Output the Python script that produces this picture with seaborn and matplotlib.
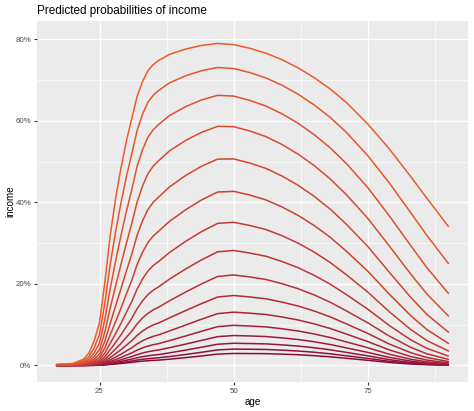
import matplotlib
matplotlib.use("Agg")
import matplotlib.pyplot as plt
import seaborn as sns
import pandas as pd
from matplotlib.ticker import PercentFormatter, FixedLocator

# ages at which predicted probabilities were read (years)
ages = [17, 20, 22, 23, 24, 25, 26, 27, 28, 29, 30, 31, 32, 33, 34, 35, 36, 38, 41, 44,
        47, 50, 53, 56, 59, 62, 65, 68, 71, 75, 79, 83, 86, 90]

# predicted probability of income (%) for each of the 16 levels (1 = lowest curve)
level01 = [0.00, 0.00, 0.01, 0.02, 0.03, 0.06, 0.13, 0.25, 0.36, 0.49, 0.64, 0.77, 0.94, 1.07, 1.17, 1.26, 1.32, 1.54, 1.92, 2.34, 2.79, 2.95,
           2.93, 2.90, 2.79, 2.64, 2.41, 2.12, 1.76, 1.27, 0.74, 0.36, 0.19, 0.07]
level02 = [0.00, 0.00, 0.01, 0.02, 0.05, 0.09, 0.19, 0.35, 0.52, 0.70, 0.90, 1.10, 1.33, 1.52, 1.66, 1.79, 1.89, 2.19, 2.69, 3.24, 3.82, 4.02,
           3.98, 3.93, 3.76, 3.55, 3.25, 2.86, 2.38, 1.73, 1.03, 0.52, 0.28, 0.11]
level03 = [0.00, 0.01, 0.02, 0.03, 0.07, 0.12, 0.27, 0.49, 0.73, 0.99, 1.28, 1.55, 1.89, 2.16, 2.37, 2.55, 2.68, 3.09, 3.76, 4.48, 5.21, 5.45,
           5.38, 5.30, 5.06, 4.76, 4.35, 3.84, 3.21, 2.36, 1.43, 0.74, 0.41, 0.17]
level04 = [0.00, 0.01, 0.02, 0.05, 0.10, 0.18, 0.39, 0.70, 1.03, 1.39, 1.80, 2.19, 2.67, 3.06, 3.36, 3.61, 3.80, 4.35, 5.23, 6.15, 7.07, 7.35,
           7.24, 7.10, 6.77, 6.37, 5.82, 5.14, 4.31, 3.21, 1.99, 1.07, 0.60, 0.26]
level05 = [0.01, 0.01, 0.03, 0.07, 0.14, 0.25, 0.55, 0.99, 1.46, 1.96, 2.54, 3.09, 3.76, 4.32, 4.74, 5.10, 5.36, 6.09, 7.22, 8.39, 9.53, 9.85,
           9.68, 9.47, 9.01, 8.46, 7.73, 6.85, 5.78, 4.34, 2.76, 1.53, 0.89, 0.41]
level06 = [0.01, 0.01, 0.05, 0.09, 0.19, 0.35, 0.77, 1.40, 2.06, 2.77, 3.56, 4.34, 5.28, 6.06, 6.66, 7.15, 7.50, 8.47, 9.90, 11.35, 12.72, 13.08,
           12.83, 12.51, 11.90, 11.16, 10.21, 9.06, 7.71, 5.85, 3.82, 2.19, 1.32, 0.63]
level07 = [0.01, 0.02, 0.07, 0.13, 0.27, 0.50, 1.09, 1.98, 2.89, 3.88, 4.98, 6.06, 7.37, 8.44, 9.28, 9.94, 10.42, 11.66, 13.44, 15.18, 16.79, 17.17,
           16.81, 16.36, 15.55, 14.58, 13.36, 11.91, 10.20, 7.85, 5.26, 3.13, 1.95, 0.98]
level08 = [0.02, 0.03, 0.09, 0.19, 0.39, 0.71, 1.54, 2.78, 4.05, 5.42, 6.92, 8.40, 10.19, 11.64, 12.78, 13.66, 14.29, 15.84, 17.98, 20.01, 21.83, 22.21,
           21.72, 21.10, 20.07, 18.83, 17.30, 15.50, 13.39, 10.45, 7.20, 4.44, 2.86, 1.51]
level09 = [0.03, 0.04, 0.13, 0.27, 0.55, 1.00, 2.18, 3.90, 5.66, 7.52, 9.54, 11.53, 13.93, 15.84, 17.36, 18.48, 19.28, 21.16, 23.64, 25.91, 27.88, 28.22,
           27.58, 26.79, 25.50, 23.98, 22.11, 19.93, 17.38, 13.79, 9.79, 6.28, 4.19, 2.32]
level10 = [0.04, 0.06, 0.19, 0.38, 0.78, 1.42, 3.06, 5.45, 7.84, 10.34, 13.02, 15.64, 18.75, 21.19, 23.14, 24.52, 25.50, 27.68, 30.41, 32.84, 34.86, 35.13,
           34.34, 33.35, 31.83, 30.01, 27.81, 25.24, 22.25, 17.98, 13.17, 8.80, 6.10, 3.56]
level11 = [0.05, 0.09, 0.26, 0.54, 1.10, 2.00, 4.29, 7.56, 10.78, 14.06, 17.52, 20.86, 24.76, 27.76, 30.14, 31.77, 32.92, 35.31, 38.16, 40.61, 42.55, 42.72,
           41.80, 40.62, 38.89, 36.82, 34.32, 31.42, 28.03, 23.10, 17.49, 12.20, 8.80, 5.42]
level12 = [0.07, 0.12, 0.37, 0.76, 1.55, 2.81, 5.98, 10.40, 14.63, 18.85, 23.16, 27.26, 31.94, 35.45, 38.21, 40.03, 41.29, 43.77, 46.57, 48.87, 50.62, 50.67,
           49.65, 48.34, 46.47, 44.20, 41.48, 38.33, 34.64, 29.16, 22.86, 16.68, 12.52, 8.17]
level13 = [0.11, 0.17, 0.53, 1.07, 2.19, 3.94, 8.28, 14.14, 19.56, 24.79, 29.96, 34.76, 40.09, 43.97, 46.99, 48.89, 50.20, 52.61, 55.17, 57.20, 58.66, 58.58,
           57.52, 56.14, 54.20, 51.84, 49.03, 45.74, 41.90, 36.06, 29.30, 22.39, 17.53, 12.14]
level14 = [0.15, 0.25, 0.75, 1.51, 3.07, 5.51, 11.35, 18.94, 25.66, 31.87, 37.77, 43.10, 48.83, 52.86, 55.96, 57.83, 59.10, 61.28, 63.47, 65.14, 66.26, 66.08,
           65.02, 63.64, 61.74, 59.41, 56.61, 53.36, 49.53, 43.59, 36.68, 29.36, 23.98, 17.67]
level15 = [0.21, 0.35, 1.06, 2.13, 4.30, 7.64, 15.38, 24.90, 32.87, 39.89, 46.27, 51.86, 57.65, 61.62, 64.56, 66.28, 67.44, 69.30, 71.04, 72.31, 73.10, 72.84,
           71.85, 70.53, 68.75, 66.54, 63.90, 60.82, 57.18, 51.43, 44.75, 37.44, 31.89, 25.00]
level16 = [0.30, 0.50, 1.50, 3.00, 6.00, 10.50, 20.50, 32.00, 41.00, 48.50, 55.00, 60.50, 66.00, 69.60, 72.30, 73.80, 74.80, 76.30, 77.60, 78.50, 79.00, 78.70,
           77.80, 76.60, 75.00, 73.00, 70.60, 67.80, 64.50, 59.20, 53.10, 46.30, 41.00, 34.10]

levels = [level01, level02, level03, level04, level05, level06, level07, level08,
          level09, level10, level11, level12, level13, level14, level15, level16]

x_ticks = [25, 50, 75]
y_ticks = [0.0, 0.2, 0.4, 0.6, 0.8]

rows = []
for i, vals in enumerate(levels, start=1):
    if len(vals) != len(ages):
        raise ValueError(f"level {i} has {len(vals)} values")
    for a, v in zip(ages, vals):
        rows.append({"age": a, "income": v / 100.0, "level": i})
df = pd.DataFrame(rows)

sns.set_theme(style="darkgrid")
plt.rcParams['font.family'] = ['Liberation Sans', 'DejaVu Sans']

W, H = 474, 411
fig = plt.figure(figsize=(W / 100, H / 100), dpi=100)
L, R, T, B = 37, 468, 21, 382
ax = fig.add_axes([L / W, 1 - B / H, (R - L) / W, (B - T) / H])

palette = sns.blend_palette(["#8A0A40", "#EC5B2B"], 16)
sns.lineplot(data=df, x="age", y="income", hue="level", palette=palette,
             legend=False, linewidth=1.1, ax=ax)

ax.set_facecolor("#EBEBEB")
ax.set_xlim(13.35, 93.65)
ax.set_ylim(-0.0405, 0.845)
ax.xaxis.set_major_locator(FixedLocator(x_ticks))
ax.xaxis.set_minor_locator(FixedLocator([37.5, 62.5, 87.5]))
ax.yaxis.set_major_locator(FixedLocator(y_ticks))
ax.yaxis.set_minor_locator(FixedLocator([0.1, 0.3, 0.5, 0.7]))
ax.yaxis.set_major_formatter(PercentFormatter(1.0, decimals=0))
ax.grid(which="major", color="white", linewidth=1.0)
ax.grid(which="minor", color="white", linewidth=0.5)
ax.set_axisbelow(True)
for s in ax.spines.values():
    s.set_visible(False)
ax.tick_params(which="major", length=2.5, width=0.8, color="#333333",
               labelsize=5.7, labelcolor="#4D4D4D", pad=1.5)
ax.tick_params(which="minor", length=0)
ax.tick_params(axis="x", bottom=True)
ax.tick_params(axis="y", left=True)

ax.set_xlabel("age", fontsize=7.1, color="black", labelpad=2)
ax.set_ylabel("income", fontsize=7.1, color="black", labelpad=0.5)
ax.set_title("Predicted probabilities of income", loc="left", fontsize=8.5,
             color="black", pad=5)

fig.savefig("out.png", dpi=100)
